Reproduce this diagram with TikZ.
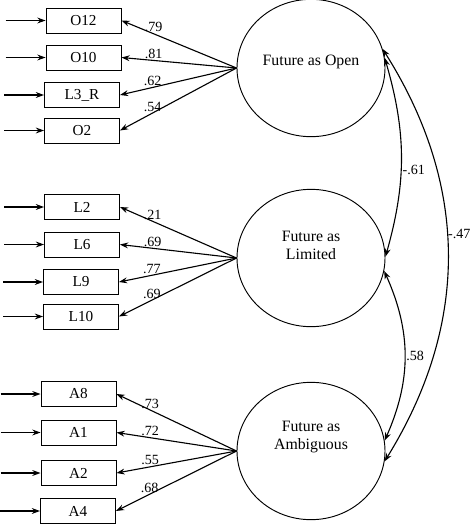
\documentclass[tikz,border=0pt]{standalone}
\usepackage{fontspec}
\setmainfont{Liberation Serif}
\usetikzlibrary{shapes.geometric, arrows.meta, positioning, calc}
\tikzset{
  item/.style={rectangle, draw, minimum width=2.25cm, minimum height=0.75cm,
    inner sep=0pt, font=\fontsize{13}{15}\selectfont, line width=0.8pt},
  factor/.style={ellipse, draw, minimum width=4.44cm, minimum height=4.12cm,
    inner sep=0pt, line width=0.8pt},
  ftext/.style={font=\fontsize{13.5}{15.5}\selectfont, align=center},
  load/.style={-{Stealth[length=7pt, width=5pt]}, line width=0.95pt},
  corr/.style={{Stealth[length=7pt, width=5pt]}-{Stealth[length=7pt, width=5pt]}, line width=0.95pt},
  coef/.style={font=\fontsize{12}{14}\selectfont, inner sep=1pt}
}
\begin{document}
\begin{tikzpicture}[x=0.03cm, y=-0.03cm]
  \useasboundingbox (0,0) rectangle (474,524);

  % Latent factors
  \node[factor, label={[ftext, yshift=0.18cm]center:Future as Open}] (open) at (311,68) {};
  \node[factor, label={[ftext, yshift=0.39cm]center:Future as\\Limited}] (limited) at (311,258) {};
  \node[factor, label={[ftext, yshift=0.42cm]center:Future as\\Ambiguous}] (ambig) at (311,451) {};

  % Indicators
  \node[item] (o12) at (83.5,20.5) {O12};
  \node[item] (o10) at (83.5,57.5) {O10};
  \node[item] (l3r) at (82,95) {L3\_R};
  \node[item] (o2) at (82,130.5) {O2};
  \node[item] (l2) at (82,207) {L2};
  \node[item] (l6) at (82,244.5) {L6};
  \node[item] (l9) at (81,282) {L9};
  \node[item] (l10) at (81,316.5) {L10};
  \node[item] (a8) at (78.5,394) {A8};
  \node[item] (a1) at (78.5,432.5) {A1};
  \node[item] (a2) at (78.5,473) {A2};
  \node[item] (a4) at (78,511) {A4};

  % Error terms
  \foreach \n in {o12,o10,l3r,o2,l2,l6,l9,l10,a8,a1,a2,a4}
    \draw[load] ([xshift=-1.2cm]\n.west) -- (\n.west);

  % Loadings
  \draw[load] (open.west) -- node[coef, pos=0.72, above] {.79} (o12.east);
  \draw[load] (open.west) -- node[coef, pos=0.72, above] {.81} (o10.east);
  \draw[load] (open.west) -- node[coef, pos=0.72, above] {.62} (l3r.east);
  \draw[load] (open.west) -- node[coef, pos=0.72, above] {.54} (o2.east);

  \draw[load] (limited.west) -- node[coef, pos=0.72, above] {.21} (l2.east);
  \draw[load] (limited.west) -- node[coef, pos=0.72, above] {.69} (l6.east);
  \draw[load] (limited.west) -- node[coef, pos=0.72, above] {.77} (l9.east);
  \draw[load] (limited.west) -- node[coef, pos=0.72, above] {.69} (l10.east);

  \draw[load] (ambig.west) -- node[coef, pos=0.72, above] {.73} (a8.east);
  \draw[load] (ambig.west) -- node[coef, pos=0.72, above] {.72} (a1.east);
  \draw[load] (ambig.west) -- node[coef, pos=0.72, above] {.55} (a2.east);
  \draw[load] (ambig.west) -- node[coef, pos=0.72, above] {.68} (a4.east);

  % Factor correlations
  \draw[corr] (open.8) to[bend left=16] node[coef, pos=0.57, right] {-.61} (limited.1);
  \draw[corr] (limited.-10) to[bend left=24] node[coef, midway, right] {.58} (ambig.8);
  \draw[corr] (open.15) to[bend left=32] node[coef, pos=0.45, right, inner sep=0.5pt] {-.47} (ambig.-8);
\end{tikzpicture}
\end{document}
